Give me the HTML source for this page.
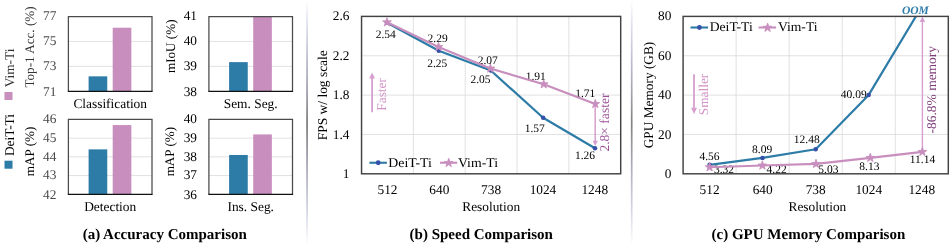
<!DOCTYPE html>
<html><head><meta charset="utf-8"><title>Figure</title>
<style>html,body{margin:0;padding:0;background:#fff;}svg{display:block;}svg text{font-family:"Liberation Serif","Times New Roman",serif;text-rendering:geometricPrecision;}</style></head><body>
<svg width="952" height="245" viewBox="0 0 952 245" >
<defs><linearGradient id="sep" x1="0" y1="0" x2="0" y2="1"><stop offset="0" stop-color="#ffffff"/><stop offset="0.08" stop-color="#e4e6f2"/><stop offset="0.245" stop-color="#bdbfd0"/><stop offset="0.375" stop-color="#a4a4b0"/><stop offset="0.5" stop-color="#838383"/><stop offset="0.66" stop-color="#a8a8b6"/><stop offset="0.865" stop-color="#d6d8e6"/><stop offset="1" stop-color="#ffffff"/></linearGradient>
<clipPath id="clipc"><rect x="683.1" y="16.4" width="265.2" height="157.4"/></clipPath></defs>
<rect width="952" height="245" fill="#fff"/>
<rect x="306.15" y="0" width="1.85" height="245" fill="url(#sep)"/>
<rect x="630.85" y="0" width="1.7" height="245" fill="url(#sep)"/>
<rect x="4.5" y="92" width="8" height="8" fill="#c88ebe"/>
<text x="13.6" y="87.3" font-size="13.33" fill="#333" text-anchor="start" transform="rotate(-90 13.6 87.3)">Vim-Ti</text>
<rect x="4.5" y="160.7" width="8" height="8" fill="#2d7ba7"/>
<text x="13.6" y="156" font-size="13.33" fill="#000" text-anchor="start" transform="rotate(-90 13.6 156)">DeiT-Ti</text>
<line x1="68.4" y1="66.37" x2="152.0" y2="66.37" stroke="#d9d9d9" stroke-width="0.8"/>
<line x1="68.4" y1="41.43" x2="152.0" y2="41.43" stroke="#d9d9d9" stroke-width="0.8"/>
<rect x="88.60000000000001" y="76.34" width="18.65" height="14.96" fill="#2d7ba7"/>
<rect x="112.7" y="27.72" width="18.65" height="63.58" fill="#c88ebe"/>
<path d="M68.4 91.3 L68.4 16.5 L152.0 16.5 L152.0 91.3" fill="none" stroke="#4a4a4a" stroke-width="1.25"/>
<line x1="67.80000000000001" y1="91.3" x2="152.6" y2="91.3" stroke="#111" stroke-width="1.25"/>
<text x="56.4" y="95.7" font-size="13.33" fill="#484848" text-anchor="end">71</text>
<text x="56.4" y="70.27" font-size="13.33" fill="#484848" text-anchor="end">73</text>
<text x="56.4" y="45.33" font-size="13.33" fill="#484848" text-anchor="end">75</text>
<text x="56.4" y="20.0" font-size="13.33" fill="#484848" text-anchor="end">77</text>
<text x="110.2" y="107.5" font-size="13.4" fill="#000" text-anchor="middle">Classification</text>
<text x="34" y="47" font-size="13.15" fill="#333" text-anchor="middle" transform="rotate(-90 34 47)">Top-1 Acc. (%)</text>
<line x1="208.9" y1="66.37" x2="292.5" y2="66.37" stroke="#d9d9d9" stroke-width="0.8"/>
<line x1="208.9" y1="41.43" x2="292.5" y2="41.43" stroke="#d9d9d9" stroke-width="0.8"/>
<rect x="229.1" y="62.13" width="18.65" height="29.17" fill="#2d7ba7"/>
<rect x="253.2" y="16.50" width="18.65" height="74.80" fill="#c88ebe"/>
<path d="M208.9 91.3 L208.9 16.5 L292.5 16.5 L292.5 91.3" fill="none" stroke="#4a4a4a" stroke-width="1.25"/>
<line x1="208.3" y1="91.3" x2="293.1" y2="91.3" stroke="#111" stroke-width="1.25"/>
<text x="197" y="95.7" font-size="13.33" fill="#000" text-anchor="end">38</text>
<text x="197" y="70.27" font-size="13.33" fill="#000" text-anchor="end">39</text>
<text x="197" y="45.33" font-size="13.33" fill="#000" text-anchor="end">40</text>
<text x="197" y="20.0" font-size="13.33" fill="#000" text-anchor="end">41</text>
<text x="250.7" y="107.5" font-size="13.4" fill="#000" text-anchor="middle">Sem. Seg.</text>
<text x="174.5" y="46.25" font-size="13.15" fill="#000" text-anchor="middle" transform="rotate(-90 174.5 46.25)">mIoU (%)</text>
<line x1="68.4" y1="175.55" x2="152.0" y2="175.55" stroke="#d9d9d9" stroke-width="0.8"/>
<line x1="68.4" y1="156.85" x2="152.0" y2="156.85" stroke="#d9d9d9" stroke-width="0.8"/>
<line x1="68.4" y1="138.15" x2="152.0" y2="138.15" stroke="#d9d9d9" stroke-width="0.8"/>
<rect x="88.60000000000001" y="149.37" width="18.65" height="44.88" fill="#2d7ba7"/>
<rect x="112.7" y="125.06" width="18.65" height="69.19" fill="#c88ebe"/>
<path d="M68.4 194.25 L68.4 119.45 L152.0 119.45 L152.0 194.25" fill="none" stroke="#4a4a4a" stroke-width="1.25"/>
<line x1="67.80000000000001" y1="194.25" x2="152.6" y2="194.25" stroke="#111" stroke-width="1.25"/>
<text x="56.4" y="198.65" font-size="13.33" fill="#484848" text-anchor="end">42</text>
<text x="56.4" y="179.45" font-size="13.33" fill="#484848" text-anchor="end">43</text>
<text x="56.4" y="160.75" font-size="13.33" fill="#484848" text-anchor="end">44</text>
<text x="56.4" y="142.05" font-size="13.33" fill="#484848" text-anchor="end">45</text>
<text x="56.4" y="122.95" font-size="13.33" fill="#484848" text-anchor="end">46</text>
<text x="110.2" y="210.75" font-size="13.4" fill="#000" text-anchor="middle">Detection</text>
<text x="34" y="151.4" font-size="13.15" fill="#000" text-anchor="middle" transform="rotate(-90 34 151.4)">mAP (%)</text>
<line x1="208.9" y1="175.55" x2="292.5" y2="175.55" stroke="#d9d9d9" stroke-width="0.8"/>
<line x1="208.9" y1="156.85" x2="292.5" y2="156.85" stroke="#d9d9d9" stroke-width="0.8"/>
<line x1="208.9" y1="138.15" x2="292.5" y2="138.15" stroke="#d9d9d9" stroke-width="0.8"/>
<rect x="229.1" y="154.98" width="18.65" height="39.27" fill="#2d7ba7"/>
<rect x="253.2" y="134.41" width="18.65" height="59.84" fill="#c88ebe"/>
<path d="M208.9 194.25 L208.9 119.45 L292.5 119.45 L292.5 194.25" fill="none" stroke="#4a4a4a" stroke-width="1.25"/>
<line x1="208.3" y1="194.25" x2="293.1" y2="194.25" stroke="#111" stroke-width="1.25"/>
<text x="197" y="198.65" font-size="13.33" fill="#000" text-anchor="end">36</text>
<text x="197" y="179.45" font-size="13.33" fill="#000" text-anchor="end">37</text>
<text x="197" y="160.75" font-size="13.33" fill="#000" text-anchor="end">38</text>
<text x="197" y="142.05" font-size="13.33" fill="#000" text-anchor="end">39</text>
<text x="197" y="122.95" font-size="13.33" fill="#000" text-anchor="end">40</text>
<text x="250.7" y="210.75" font-size="13.4" fill="#000" text-anchor="middle">Ins. Seg.</text>
<text x="174.5" y="151.6" font-size="13.15" fill="#000" text-anchor="middle" transform="rotate(-90 174.5 151.6)">mAP (%)</text>
<text x="164.75" y="238.75" font-size="15" fill="#000" text-anchor="middle" font-weight="bold">(a) Accuracy Comparison</text>
<line x1="361.55" y1="134.45" x2="620.7" y2="134.45" stroke="#d9d9d9" stroke-width="0.8"/>
<line x1="361.55" y1="95.1" x2="620.7" y2="95.1" stroke="#d9d9d9" stroke-width="0.8"/>
<line x1="361.55" y1="55.75" x2="620.7" y2="55.75" stroke="#d9d9d9" stroke-width="0.8"/>
<line x1="413.38" y1="16.4" x2="413.38" y2="173.8" stroke="#d9d9d9" stroke-width="0.8"/>
<line x1="465.21" y1="16.4" x2="465.21" y2="173.8" stroke="#d9d9d9" stroke-width="0.8"/>
<line x1="517.04" y1="16.4" x2="517.04" y2="173.8" stroke="#d9d9d9" stroke-width="0.8"/>
<line x1="568.87" y1="16.4" x2="568.87" y2="173.8" stroke="#d9d9d9" stroke-width="0.8"/>
<text x="349.5" y="177.9" font-size="13.33" fill="#000" text-anchor="end">1</text>
<text x="349.5" y="138.55" font-size="13.33" fill="#000" text-anchor="end">1.4</text>
<text x="349.5" y="99.2" font-size="13.33" fill="#000" text-anchor="end">1.8</text>
<text x="349.5" y="59.85" font-size="13.33" fill="#000" text-anchor="end">2.2</text>
<text x="349.5" y="19.8" font-size="13.33" fill="#000" text-anchor="end">2.6</text>
<text x="387.47" y="193.7" font-size="13.33" fill="#000" text-anchor="middle">512</text>
<text x="439.3" y="193.7" font-size="13.33" fill="#000" text-anchor="middle">640</text>
<text x="491.12" y="193.7" font-size="13.33" fill="#000" text-anchor="middle">738</text>
<text x="542.96" y="193.7" font-size="13.33" fill="#000" text-anchor="middle">1024</text>
<text x="594.79" y="193.7" font-size="13.33" fill="#000" text-anchor="middle">1248</text>
<text x="385.7" y="38.3" font-size="11.5" fill="#000" text-anchor="middle">2.54</text>
<text x="437.6" y="41.6" font-size="11.5" fill="#000" text-anchor="middle">2.29</text>
<text x="437.3" y="67.3" font-size="11.5" fill="#000" text-anchor="middle">2.25</text>
<text x="487.8" y="64.3" font-size="11.5" fill="#000" text-anchor="middle">2.07</text>
<text x="480.5" y="82.8" font-size="11.5" fill="#000" text-anchor="middle">2.05</text>
<text x="535.8" y="80" font-size="11.5" fill="#000" text-anchor="middle">1.91</text>
<text x="534.8" y="132" font-size="11.5" fill="#000" text-anchor="middle">1.57</text>
<text x="585.2" y="97.1" font-size="11.5" fill="#000" text-anchor="middle">1.71</text>
<text x="585" y="158.75" font-size="11.5" fill="#000" text-anchor="middle">1.26</text>
<line x1="595.2" y1="104" x2="595.2" y2="143" stroke="#d79fd0" stroke-width="1.5"/>
<polygon points="595.2,146 592.6,140.8 597.8,140.8" fill="#d79fd0"/>
<polyline points="387.00,22.79 438.80,50.83 490.80,70.51 543.10,117.73 595.00,148.22" fill="none" stroke="#2d7ba7" stroke-width="2.2" stroke-linejoin="round"/>
<circle cx="387.00" cy="22.79" r="2.25" fill="#3550a8"/>
<circle cx="438.80" cy="50.83" r="2.25" fill="#3550a8"/>
<circle cx="490.80" cy="70.51" r="2.25" fill="#3550a8"/>
<circle cx="543.10" cy="117.73" r="2.25" fill="#3550a8"/>
<circle cx="595.00" cy="148.22" r="2.25" fill="#3550a8"/>
<polyline points="387.00,22.30 438.50,46.90 490.40,68.54 543.70,84.28 595.30,103.95" fill="none" stroke="#c88ebe" stroke-width="2.2" stroke-linejoin="round"/>
<polygon points="387.00,17.70 388.06,20.85 391.37,20.88 388.71,22.86 389.70,26.02 387.00,24.10 384.30,26.02 385.29,22.86 382.63,20.88 385.94,20.85" fill="#c88ebe" stroke="#c88ebe" stroke-width="0.9" stroke-linejoin="round"/>
<polygon points="438.50,42.30 439.56,45.44 442.87,45.47 440.21,47.45 441.20,50.62 438.50,48.70 435.80,50.62 436.79,47.45 434.13,45.47 437.44,45.44" fill="#c88ebe" stroke="#c88ebe" stroke-width="0.9" stroke-linejoin="round"/>
<polygon points="490.40,63.94 491.46,67.08 494.77,67.12 492.11,69.09 493.10,72.26 490.40,70.34 487.70,72.26 488.69,69.09 486.03,67.12 489.34,67.08" fill="#c88ebe" stroke="#c88ebe" stroke-width="0.9" stroke-linejoin="round"/>
<polygon points="543.70,79.68 544.76,82.82 548.07,82.86 545.41,84.83 546.40,88.00 543.70,86.08 541.00,88.00 541.99,84.83 539.33,82.86 542.64,82.82" fill="#c88ebe" stroke="#c88ebe" stroke-width="0.9" stroke-linejoin="round"/>
<polygon points="595.30,99.35 596.36,102.50 599.67,102.53 597.01,104.51 598.00,107.68 595.30,105.75 592.60,107.68 593.59,104.51 590.93,102.53 594.24,102.50" fill="#c88ebe" stroke="#c88ebe" stroke-width="0.9" stroke-linejoin="round"/>
<rect x="361.55" y="16.4" width="259.15" height="157.40" fill="none" stroke="#424242" stroke-width="1.45"/>
<line x1="369.4" y1="162.75" x2="386.9" y2="162.75" stroke="#2d7ba7" stroke-width="2.1"/>
<circle cx="378.2" cy="162.75" r="2.4" fill="#3550a8"/>
<text x="388.3" y="166.7" font-size="13.33" fill="#000" text-anchor="start" textLength="43.5" lengthAdjust="spacingAndGlyphs">DeiT-Ti</text>
<line x1="440" y1="162.75" x2="457.25" y2="162.75" stroke="#c88ebe" stroke-width="2.1"/>
<polygon points="448.70,158.30 449.76,161.44 453.07,161.48 450.41,163.46 451.40,166.62 448.70,164.70 446.00,166.62 446.99,163.46 444.33,161.48 447.64,161.44" fill="#c88ebe" stroke="#c88ebe" stroke-width="0.9" stroke-linejoin="round"/>
<text x="458" y="166.7" font-size="13.33" fill="#000" text-anchor="start" textLength="40" lengthAdjust="spacingAndGlyphs">Vim-Ti</text>
<text x="491.2" y="210.5" font-size="13.33" fill="#000" text-anchor="middle">Resolution</text>
<text x="327.5" y="95.2" font-size="13.45" fill="#000" text-anchor="middle" transform="rotate(-90 327.5 95.2)">FPS w/ log scale</text>
<text x="481.25" y="238.75" font-size="15" fill="#000" text-anchor="middle" font-weight="bold">(b) Speed Comparison</text>
<line x1="372.1" y1="76" x2="372.1" y2="112.2" stroke="#d79fd0" stroke-width="1.8"/>
<polygon points="372.1,72.5 369.2,78.5 375,78.5" fill="#d79fd0"/>
<text x="386" y="110.7" font-size="13.33" fill="#d293c8" text-anchor="start" transform="rotate(-90 386 110.7)">Faster</text>
<text x="609" y="151.6" font-size="13.55" fill="#9d5298" text-anchor="start" transform="rotate(-90 609 151.6)">2.8× faster</text>
<line x1="683.1" y1="134.45" x2="948.3" y2="134.45" stroke="#d9d9d9" stroke-width="0.8"/>
<line x1="683.1" y1="95.1" x2="948.3" y2="95.1" stroke="#d9d9d9" stroke-width="0.8"/>
<line x1="683.1" y1="55.75" x2="948.3" y2="55.75" stroke="#d9d9d9" stroke-width="0.8"/>
<line x1="736.14" y1="16.4" x2="736.14" y2="173.8" stroke="#d9d9d9" stroke-width="0.8"/>
<line x1="789.18" y1="16.4" x2="789.18" y2="173.8" stroke="#d9d9d9" stroke-width="0.8"/>
<line x1="842.22" y1="16.4" x2="842.22" y2="173.8" stroke="#d9d9d9" stroke-width="0.8"/>
<line x1="895.26" y1="16.4" x2="895.26" y2="173.8" stroke="#d9d9d9" stroke-width="0.8"/>
<text x="671.3" y="177.9" font-size="13.33" fill="#000" text-anchor="end">0</text>
<text x="671.3" y="138.55" font-size="13.33" fill="#000" text-anchor="end">20</text>
<text x="671.3" y="99.2" font-size="13.33" fill="#000" text-anchor="end">40</text>
<text x="671.3" y="59.85" font-size="13.33" fill="#000" text-anchor="end">60</text>
<text x="671.3" y="19.8" font-size="13.33" fill="#000" text-anchor="end">80</text>
<text x="709.62" y="193.7" font-size="13.33" fill="#000" text-anchor="middle">512</text>
<text x="762.66" y="193.7" font-size="13.33" fill="#000" text-anchor="middle">640</text>
<text x="815.7" y="193.7" font-size="13.33" fill="#000" text-anchor="middle">738</text>
<text x="868.74" y="193.7" font-size="13.33" fill="#000" text-anchor="middle">1024</text>
<text x="921.78" y="193.7" font-size="13.33" fill="#000" text-anchor="middle">1248</text>
<text x="709.5" y="159.5" font-size="11.5" fill="#000" text-anchor="middle">4.56</text>
<text x="724" y="172.5" font-size="11.5" fill="#000" text-anchor="middle">3.32</text>
<text x="762.1" y="153.3" font-size="11.5" fill="#000" text-anchor="middle">8.09</text>
<text x="776.6" y="172.5" font-size="11.5" fill="#000" text-anchor="middle">4.22</text>
<text x="806.8" y="143.3" font-size="11.5" fill="#000" text-anchor="middle">12.48</text>
<text x="828.4" y="172.5" font-size="11.5" fill="#000" text-anchor="middle">5.03</text>
<text x="853.75" y="98.3" font-size="11.5" fill="#000" text-anchor="middle">40.09</text>
<text x="869.4" y="169.75" font-size="11.5" fill="#000" text-anchor="middle">8.13</text>
<text x="922.5" y="163.4" font-size="11.5" fill="#000" text-anchor="middle">11.14</text>
<polyline points="709.60,164.83 762.50,157.88 815.70,149.25 868.70,94.92 921.80,6.56" fill="none" stroke="#2d7ba7" stroke-width="2.2" stroke-linejoin="round" clip-path="url(#clipc)"/>
<circle cx="709.60" cy="164.83" r="2.25" fill="#3550a8"/>
<circle cx="762.50" cy="157.88" r="2.25" fill="#3550a8"/>
<circle cx="815.70" cy="149.25" r="2.25" fill="#3550a8"/>
<circle cx="868.70" cy="94.92" r="2.25" fill="#3550a8"/>
<line x1="922.4" y1="20" x2="922.4" y2="151" stroke="#d79fd0" stroke-width="1.4"/>
<polygon points="922.4,16.6 919.6,22 925.2,22" fill="#d79fd0"/>
<polyline points="709.60,167.27 762.40,165.50 816.00,163.90 870.30,157.80 922.40,151.88" fill="none" stroke="#c88ebe" stroke-width="2.2" stroke-linejoin="round"/>
<polygon points="709.60,162.67 710.66,165.81 713.97,165.85 711.31,167.82 712.30,170.99 709.60,169.07 706.90,170.99 707.89,167.82 705.23,165.85 708.54,165.81" fill="#c88ebe" stroke="#c88ebe" stroke-width="0.9" stroke-linejoin="round"/>
<polygon points="762.40,160.90 763.46,164.04 766.77,164.08 764.11,166.05 765.10,169.22 762.40,167.30 759.70,169.22 760.69,166.05 758.03,164.08 761.34,164.04" fill="#c88ebe" stroke="#c88ebe" stroke-width="0.9" stroke-linejoin="round"/>
<polygon points="816.00,159.30 817.06,162.45 820.37,162.48 817.71,164.46 818.70,167.62 816.00,165.70 813.30,167.62 814.29,164.46 811.63,162.48 814.94,162.45" fill="#c88ebe" stroke="#c88ebe" stroke-width="0.9" stroke-linejoin="round"/>
<polygon points="870.30,153.20 871.36,156.35 874.67,156.38 872.01,158.36 873.00,161.53 870.30,159.60 867.60,161.53 868.59,158.36 865.93,156.38 869.24,156.35" fill="#c88ebe" stroke="#c88ebe" stroke-width="0.9" stroke-linejoin="round"/>
<polygon points="922.40,147.28 923.46,150.43 926.77,150.46 924.11,152.44 925.10,155.60 922.40,153.68 919.70,155.60 920.69,152.44 918.03,150.46 921.34,150.43" fill="#c88ebe" stroke="#c88ebe" stroke-width="0.9" stroke-linejoin="round"/>
<rect x="683.1" y="16.4" width="265.20" height="157.40" fill="none" stroke="#424242" stroke-width="1.45"/>
<line x1="690.5" y1="27.5" x2="708" y2="27.5" stroke="#2d7ba7" stroke-width="2.1"/>
<circle cx="699.4" cy="27.5" r="2.4" fill="#3550a8"/>
<text x="709.7" y="31.3" font-size="13.33" fill="#000" text-anchor="start" textLength="43" lengthAdjust="spacingAndGlyphs">DeiT-Ti</text>
<line x1="758.6" y1="27.5" x2="776.1" y2="27.5" stroke="#c88ebe" stroke-width="2.1"/>
<polygon points="767.60,23.10 768.66,26.24 771.97,26.28 769.31,28.26 770.30,31.42 767.60,29.50 764.90,31.42 765.89,28.26 763.23,26.28 766.54,26.24" fill="#c88ebe" stroke="#c88ebe" stroke-width="0.9" stroke-linejoin="round"/>
<text x="778" y="31.3" font-size="13.33" fill="#000" text-anchor="start" textLength="39.5" lengthAdjust="spacingAndGlyphs">Vim-Ti</text>
<text x="817.4" y="210.5" font-size="13.33" fill="#000" text-anchor="middle">Resolution</text>
<text x="653" y="95" font-size="13.33" fill="#000" text-anchor="middle" transform="rotate(-90 653 95)">GPU Memory (GB)</text>
<text x="808.4" y="238.75" font-size="15" fill="#000" text-anchor="middle" font-weight="bold">(c) GPU Memory Comparison</text>
<text x="915.4" y="14.2" font-size="11.5" fill="#2e7ba8" text-anchor="middle" font-weight="bold" font-style="italic">OOM</text>
<line x1="694" y1="74.3" x2="694" y2="110" stroke="#d79fd0" stroke-width="1.8"/>
<polygon points="694,114 691,107.8 697,107.8" fill="#d79fd0"/>
<text x="708.2" y="115.2" font-size="13.33" fill="#d293c8" text-anchor="start" transform="rotate(-90 708.2 115.2)">Smaller</text>
<text x="936.2" y="133.6" font-size="13.5" fill="#7d3c78" text-anchor="start" transform="rotate(-90 936.2 133.6)">-86.8% memory</text>
</svg></body></html>
